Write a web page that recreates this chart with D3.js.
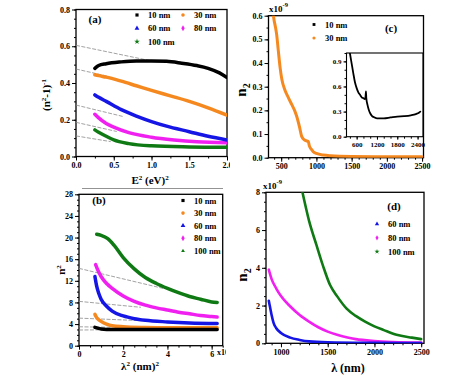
<!DOCTYPE html>
<html>
<head>
<meta charset="utf-8">
<script src="https://cdn.jsdelivr.net/npm/d3@7"></script>
<style>
  body { margin: 0; background: #fff; }
  text { font-family: "Liberation Serif", "Times New Roman", serif; font-weight: bold; }
</style>
</head>
<body>
<div id="chart"></div>
<script>
// ---------- data ----------
// (a) (n^2-1)^-1 vs E^2
const a10 = [[0.25,0.48],[0.3,0.495],[0.4,0.505],[0.6,0.515],[0.8,0.52],[1.0,0.52],[1.2,0.518],[1.4,0.508],[1.6,0.495],[1.75,0.48],[1.9,0.455],[2.0,0.43]];
const a30 = [[0.25,0.445],[0.3,0.44],[0.4,0.432],[0.6,0.41],[0.8,0.385],[1.0,0.36],[1.25,0.33],[1.5,0.3],[1.75,0.265],[2.0,0.225]];
const a60 = [[0.25,0.335],[0.3,0.322],[0.4,0.3],[0.6,0.255],[0.8,0.22],[1.0,0.19],[1.2,0.165],[1.5,0.135],[1.75,0.11],[2.0,0.09]];
const a80 = [[0.25,0.23],[0.3,0.21],[0.4,0.18],[0.5,0.16],[0.7,0.13],[1.0,0.105],[1.3,0.09],[1.6,0.08],[2.0,0.075]];
const a100 = [[0.25,0.145],[0.3,0.132],[0.4,0.11],[0.5,0.09],[0.7,0.07],[1.0,0.058],[1.5,0.052],[2.0,0.05]];
const aFits = [[[0,0.605],[1.0,0.52]],[[0,0.476],[0.41,0.438]],[[0,0.28],[0.63,0.217]],[[0,0.186],[0.54,0.136]],[[0,0.112],[0.46,0.081]]];
const aXTicks = [0, 0.5, 1.0, 1.5, 2.0];
const aYTicks = [0, 0.2, 0.4, 0.6, 0.8];

// (b) n^2 vs lambda^2 (x10^6 nm^2)
const b10 = [[0.72,3.4],[0.8,3.3],[1.0,3.1],[1.5,3.0],[2.0,3.0],[4.0,3.0],[6.25,3.0]];
const b30 = [[0.72,5.8],[0.8,5.2],[1.0,4.5],[1.25,4.0],[1.5,3.7],[2.0,3.5],[3.0,3.35],[4.0,3.3],[6.25,3.3]];
const b60 = [[0.72,12.8],[0.8,11.0],[0.9,9.6],[1.0,8.6],[1.25,7.3],[1.5,6.4],[2.0,5.5],[2.5,5.0],[3.0,4.7],[4.0,4.4],[5.0,4.2],[6.25,4.1]];
const b80 = [[0.75,15.0],[0.85,14.0],[1.0,12.8],[1.25,11.5],[1.5,10.6],[2.0,9.2],[2.5,8.2],[3.0,7.5],[3.5,7.0],[4.0,6.6],[4.5,6.2],[5.0,5.9],[5.5,5.6],[6.0,5.4],[6.25,5.3]];
const b100 = [[0.8,20.6],[1.0,20.4],[1.3,19.8],[1.6,18.5],[2.0,16.3],[2.5,14.2],[3.0,12.6],[3.5,11.5],[4.0,10.6],[4.5,9.8],[5.0,9.1],[5.5,8.6],[6.0,8.1],[6.25,8.0]];
const bFits = [[[0,14.3],[3.8,10.6]],[[0,8.2],[2.8,7.1]],[[0,5.1],[3.0,4.6]],[[0,3.5],[1.5,3.4]],[[0,2.9],[1.2,2.95]]];
const bXTicks = [0, 2, 4, 6];
const bYTicks = [0, 4, 8, 12, 16, 20, 24, 28];

// (c) n2 (x10^-9) vs lambda, 30 nm; inset 10 nm
const c30 = [[380,0.62],[400,0.58],[420,0.55],[436,0.52],[460,0.45],[483,0.385],[510,0.33],[554,0.285],[600,0.255],[649,0.225],[690,0.2],[720,0.175],[760,0.13],[791,0.09],[830,0.075],[870,0.07],[885,0.068],[900,0.05],[930,0.035],[955,0.025],[1000,0.018],[1097,0.011],[1200,0.008],[1500,0.005],[2000,0.004],[2500,0.004]];
const c10 = [[400,1.0],[450,0.88],[500,0.76],[550,0.65],[600,0.58],[650,0.53],[700,0.5],[750,0.47],[800,0.46],[840,0.45],[860,0.47],[875,0.54],[885,0.46],[920,0.38],[960,0.32],[1000,0.28],[1050,0.25],[1100,0.235],[1200,0.22],[1400,0.22],[1600,0.23],[1800,0.24],[2000,0.245],[2200,0.255],[2350,0.27],[2450,0.29],[2480,0.3]];
const cXTicks = [500, 1000, 1500, 2000, 2500];
const cYTicks = [0, 0.1, 0.2, 0.3, 0.4, 0.5, 0.6];
const insetXTicks = [600, 1200, 1800, 2400];
const insetYTicks = [0, 0.3, 0.6, 0.9];

// (d) n2 (x10^-9) vs lambda
const d60 = [[870,2.25],[880,2.0],[900,1.5],[920,1.1],[950,0.8],[1000,0.55],[1100,0.3],[1200,0.18],[1300,0.1],[1500,0.05],[2000,0.02],[2500,0.01]];
const d80 = [[870,3.9],[900,3.4],[950,2.9],[1000,2.5],[1100,1.95],[1200,1.5],[1300,1.15],[1400,0.85],[1500,0.62],[1600,0.45],[1700,0.32],[1800,0.22],[2000,0.12],[2200,0.07],[2500,0.04]];
const d100 = [[1230,8.0],[1300,6.5],[1380,5.2],[1450,4.1],[1524,3.1],[1600,2.5],[1700,1.85],[1800,1.45],[1900,1.15],[2000,0.9],[2100,0.7],[2236,0.45],[2400,0.3],[2500,0.22]];
const dXTicks = [1000, 1500, 2000, 2500];
const dYTicks = [0, 2, 4, 6, 8];

const colors = { n10: "#000000", n30: "#f5891f", n60: "#1515e6", n80: "#f020f0", n100: "#0f7a14" };

// ---------- drawing ----------
const svg = d3.select("#chart").append("svg")
  .attr("width", 474)
  .attr("height", 375);

const defs = svg.append("defs");
let clipCount = 0;
function clipRect(x, y, w, h) {
  const id = "clip" + (clipCount++);
  defs.append("clipPath").attr("id", id)
    .append("rect").attr("x", x).attr("y", y).attr("width", w).attr("height", h);
  return "url(#" + id + ")";
}

function makePanel(root, o) {
  const x = d3.scaleLinear().domain(o.xDomain).range(o.xRange);
  const y = d3.scaleLinear().domain(o.yDomain).range(o.yRange);
  const g = root.append("g");
  const fs = o.fontSize || 8;

  const xAxis = g.append("g")
    .attr("transform", `translate(0,${o.yRange[0]})`)
    .call(d3.axisBottom(x).tickValues(o.xTicks).tickSize(o.tick || 4).tickPadding(2).tickFormat(o.xFmt));
  const yAxis = g.append("g")
    .attr("transform", `translate(${o.xRange[0]},0)`)
    .call(d3.axisLeft(y).tickValues(o.yTicks).tickSize(o.tick || 4).tickPadding(2).tickFormat(o.yFmt));
  [xAxis, yAxis].forEach(a => {
    a.attr("font-size", fs);
    a.select(".domain").remove();
    a.selectAll("line").attr("stroke-width", 1);
  });

  if (o.xMinor) {
    g.append("g").attr("transform", `translate(0,${o.yRange[0]})`)
      .call(d3.axisBottom(x).tickValues(o.xMinor).tickSize(2).tickFormat(""))
      .call(a => a.select(".domain").remove());
  }
  if (o.yMinor) {
    g.append("g").attr("transform", `translate(${o.xRange[0]},0)`)
      .call(d3.axisLeft(y).tickValues(o.yMinor).tickSize(2).tickFormat(""))
      .call(a => a.select(".domain").remove());
  }

  g.append("rect")
    .attr("x", o.xRange[0]).attr("y", o.yRange[1])
    .attr("width", o.xRange[1] - o.xRange[0])
    .attr("height", o.yRange[0] - o.yRange[1])
    .attr("fill", "none").attr("stroke", "#000").attr("stroke-width", o.frame || 1.3);

  const plot = g.append("g").attr("clip-path",
    clipRect(o.xRange[0], o.yRange[1], o.xRange[1] - o.xRange[0], o.yRange[0] - o.yRange[1]));
  return { x, y, g, plot };
}

function range(a, b, step) {
  return d3.range(a, b + step / 2, step).map(v => +v.toFixed(6));
}

function drawSeries(p, data, color, width) {
  const line = d3.line().x(d => p.x(d[0])).y(d => p.y(d[1])).curve(d3.curveMonotoneX);
  p.plot.append("path").datum(data)
    .attr("d", line)
    .attr("fill", "none")
    .attr("stroke", color)
    .attr("stroke-width", width)
    .attr("stroke-linecap", "round")
    .attr("stroke-linejoin", "round");
}

function drawFits(p, fits) {
  p.plot.selectAll(null).data(fits).join("line")
    .attr("x1", d => p.x(d[0][0])).attr("y1", d => p.y(d[0][1]))
    .attr("x2", d => p.x(d[1][0])).attr("y2", d => p.y(d[1][1]))
    .attr("stroke", "#8a8a8a").attr("stroke-width", 0.8)
    .attr("stroke-dasharray", "4,1.5");
}

function legend(g, items, x0, y0, dy, dx) {
  items.forEach((it, i) => {
    const col = it.col || 0, row = it.row != null ? it.row : i;
    const cx = x0 + col * (dx || 0), cy = y0 + row * dy;
    g.append("path")
      .attr("d", d3.symbol().type(it.sym).size(it.size || 10)())
      .attr("transform", `translate(${cx},${cy})`)
      .attr("fill", it.color);
    g.append("text")
      .attr("x", cx + 11).attr("y", cy + 3)
      .attr("font-size", 8.5)
      .text(it.label);
  });
}

// ---- panel (a) ----
const leftTop = svg.append("g").attr("clip-path", clipRect(0, 0, 230, 186));
const pa = makePanel(leftTop, {
  xDomain: [0, 2], xRange: [76, 227], yDomain: [0, 0.8], yRange: [156.5, 9.5],
  xTicks: aXTicks, yTicks: aYTicks, xMinor: range(0, 2, 0.25), yMinor: range(0, 0.8, 0.05),
  xFmt: d3.format(".1f"), yFmt: d3.format(".1f")
});
drawFits(pa, aFits);
drawSeries(pa, a100, colors.n100, 3.5);
drawSeries(pa, a80, colors.n80, 3.5);
drawSeries(pa, a60, colors.n60, 3.5);
drawSeries(pa, a30, colors.n30, 3.5);
drawSeries(pa, a10, colors.n10, 3.5);
legend(pa.g, [
  { label: "10 nm", color: colors.n10, sym: d3.symbolSquare, col: 0, row: 0 },
  { label: "30 nm", color: colors.n30, sym: d3.symbolCircle, col: 1, row: 0 },
  { label: "60 nm", color: colors.n60, sym: d3.symbolTriangle, col: 0, row: 1 },
  { label: "80 nm", color: colors.n80, sym: d3.symbolDiamond, col: 1, row: 1 },
  { label: "100 nm", color: colors.n100, sym: d3.symbolStar, col: 0, row: 2 }
], 137, 15, 13.3, 46);
pa.g.append("text").attr("x", 95).attr("y", 23).attr("text-anchor", "middle").attr("font-size", 11).text("(a)");
pa.g.append("text").attr("transform", "translate(50,95) rotate(-90)").attr("text-anchor", "middle").attr("font-size", 11)
  .call(t => {
    t.append("tspan").text("(n");
    t.append("tspan").attr("dy", -4).attr("font-size", 7).text("2");
    t.append("tspan").attr("dy", 4).text("-1)");
    t.append("tspan").attr("dy", -4).attr("font-size", 7).text("-1");
  });
pa.g.append("text").attr("x", 150).attr("y", 184).attr("text-anchor", "middle").attr("font-size", 11)
  .call(t => {
    t.append("tspan").text("E");
    t.append("tspan").attr("dy", -4).attr("font-size", 7).text("2");
    t.append("tspan").attr("dy", 4).text(" (eV)");
    t.append("tspan").attr("dy", -4).attr("font-size", 7).text("2");
  });
svg.append("line").attr("x1", 82).attr("x2", 223).attr("y1", 188.5).attr("y2", 188.5)
  .attr("stroke", "#777").attr("stroke-width", 0.8);

// ---- panel (b) ----
const leftBottom = svg.append("g").attr("clip-path", clipRect(0, 189, 226, 186));
const pb = makePanel(leftBottom, {
  xDomain: [0, 6.5], xRange: [79, 222.7], yDomain: [0, 28], yRange: [345.7, 194.3],
  xTicks: bXTicks, yTicks: bYTicks, xMinor: range(0, 6.5, 0.5), yMinor: range(0, 28, 1),
  xFmt: d3.format("d"), yFmt: d3.format("d")
});
drawFits(pb, bFits);
drawSeries(pb, b100, colors.n100, 3.5);
drawSeries(pb, b80, colors.n80, 3.5);
drawSeries(pb, b60, colors.n60, 3.5);
drawSeries(pb, b30, colors.n30, 3.5);
drawSeries(pb, b10, colors.n10, 3.5);
legend(pb.g, [
  { label: "10 nm", color: colors.n10, sym: d3.symbolSquare },
  { label: "30 nm", color: colors.n30, sym: d3.symbolCircle },
  { label: "60 nm", color: colors.n60, sym: d3.symbolTriangle },
  { label: "80 nm", color: colors.n80, sym: d3.symbolDiamond },
  { label: "100 nm", color: colors.n100, sym: d3.symbolTriangle2 }
], 183, 200.5, 12.6);
pb.g.append("text").attr("x", 99).attr("y", 204).attr("text-anchor", "middle").attr("font-size", 11).text("(b)");
pb.g.append("text").attr("x", 217).attr("y", 355).attr("font-size", 8)
  .call(t => {
    t.append("tspan").text("x10");
    t.append("tspan").attr("dy", -3).attr("font-size", 6).text("6");
  });
pb.g.append("text").attr("transform", "translate(65,270) rotate(-90)").attr("text-anchor", "middle").attr("font-size", 11)
  .call(t => {
    t.append("tspan").text("n");
    t.append("tspan").attr("dy", -4).attr("font-size", 7).text("2");
  });
pb.g.append("text").attr("x", 140).attr("y", 370).attr("text-anchor", "middle").attr("font-size", 11)
  .call(t => {
    t.append("tspan").text("λ");
    t.append("tspan").attr("dy", -4).attr("font-size", 7).text("2");
    t.append("tspan").attr("dy", 4).text(" (nm)");
    t.append("tspan").attr("dy", -4).attr("font-size", 7).text("2");
  });

// ---- panel (c) ----
const pc = makePanel(svg, {
  xDomain: [320, 2520], xRange: [268.5, 423.5], yDomain: [0, 0.6], yRange: [157.7, 15.7],
  xTicks: cXTicks, yTicks: cYTicks, xMinor: range(400, 2500, 100), yMinor: range(0, 0.6, 0.05),
  xFmt: d3.format("d"), yFmt: d3.format(".1f")
});
drawSeries(pc, c30, colors.n30, 3);
legend(pc.g, [
  { label: "10 nm", color: colors.n10, sym: d3.symbolSquare, size: 8 },
  { label: "30 nm", color: colors.n30, sym: d3.symbolCircle, size: 8 }
], 314, 24.5, 13.5);
pc.g.append("text").attr("x", 391).attr("y", 32).attr("text-anchor", "middle").attr("font-size", 11).text("(c)");
pc.g.append("text").attr("x", 269).attr("y", 12).attr("font-size", 9)
  .call(t => {
    t.append("tspan").text("x10");
    t.append("tspan").attr("dy", -5).attr("font-size", 6.5).text("-9");
  });
pc.g.append("text").attr("transform", "translate(246,90) rotate(-90)").attr("text-anchor", "middle").attr("font-size", 15)
  .call(t => {
    t.append("tspan").text("n");
    t.append("tspan").attr("dy", 4).attr("font-size", 10).text("2");
  });

// inset of (c)
const inset = makePanel(pc.g, {
  xDomain: [300, 2560], xRange: [346.5, 423], yDomain: [0, 1.0], yRange: [136.7, 53],
  xTicks: insetXTicks, yTicks: insetYTicks, xMinor: range(400, 2500, 200), yMinor: range(0, 1.0, 0.1),
  xFmt: d3.format("d"), yFmt: d3.format(".1f"), fontSize: 7, tick: 3, frame: 1.1
});
drawSeries(inset, c10, colors.n10, 1.8);

// ---- panel (d) ----
const pd = makePanel(svg, {
  xDomain: [840, 2530], xRange: [266, 424], yDomain: [0, 8], yRange: [343.3, 192.3],
  xTicks: dXTicks, yTicks: dYTicks, xMinor: range(900, 2500, 100), yMinor: range(0, 8, 0.5),
  xFmt: d3.format("d"), yFmt: d3.format("d")
});
drawSeries(pd, d100, colors.n100, 2.6);
drawSeries(pd, d80, colors.n80, 2.6);
drawSeries(pd, d60, colors.n60, 2.6);
legend(pd.g, [
  { label: "60 nm", color: colors.n60, sym: d3.symbolTriangle, size: 8 },
  { label: "80 nm", color: colors.n80, sym: d3.symbolDiamond, size: 8 },
  { label: "100 nm", color: colors.n100, sym: d3.symbolStar, size: 8 }
], 377, 224, 13.8);
pd.g.append("text").attr("x", 394).attr("y", 210).attr("text-anchor", "middle").attr("font-size", 11).text("(d)");
pd.g.append("text").attr("x", 263).attr("y", 189).attr("font-size", 9)
  .call(t => {
    t.append("tspan").text("x10");
    t.append("tspan").attr("dy", -5).attr("font-size", 6.5).text("-9");
  });
pd.g.append("text").attr("transform", "translate(247,275) rotate(-90)").attr("text-anchor", "middle").attr("font-size", 15)
  .call(t => {
    t.append("tspan").text("n");
    t.append("tspan").attr("dy", 4).attr("font-size", 10).text("2");
  });
pd.g.append("text").attr("x", 348).attr("y", 372).attr("text-anchor", "middle").attr("font-size", 12).text("λ (nm)");
</script>
</body>
</html>
